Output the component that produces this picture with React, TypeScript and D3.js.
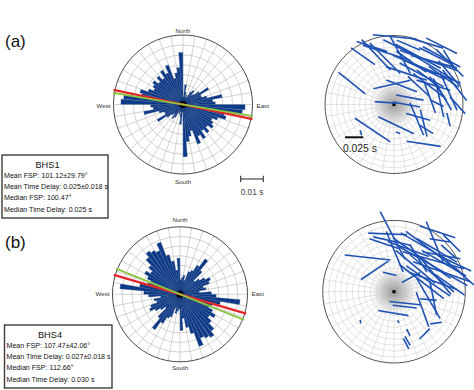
import React from "react";
import * as d3 from "d3";

// ---------- DATA ----------
const panelLabels = ["(a)", "(b)"];
const compassLabels = ["North", "East", "South", "West"];

// rose bins (5 deg, axial data mirrored onto the opposite direction)
const binStartDeg = [0, 5, 10, 15, 20, 25, 30, 35, 40, 45, 50, 55, 60, 65, 70, 75, 80, 85,
  90, 95, 100, 105, 110, 115, 120, 125, 130, 135, 140, 145, 150, 155, 160, 165, 170, 175];
const roseCountsA = [3, 8, 5, 3, 4, 3, 6, 7, 5, 6, 8, 12, 8, 8, 10, 16, 12, 13,
  25, 24, 17, 18, 15, 13, 14, 15, 13, 15, 13, 16, 14, 17, 11, 13, 15, 21];
const roseCountsB = [6, 7, 8, 6, 10, 11, 14, 18, 13, 8, 10, 12, 14, 13, 10, 11, 8, 13,
  15, 25, 17, 14, 13, 15, 17, 15, 17, 20, 22, 21, 20, 23, 17, 14, 10, 15];
const roseMaxCount = 28;

// drawn axis directions (deg from North)
const meanAxisDeg = [101.8, 106.3];
const medianAxisDeg = [99.4, 111.8];

const stationNames = ["BHS1", "BHS4"];
const statsA = ["Mean FSP: 101.12±29.79°", "Mean Time Delay: 0.025±0.018 s", "Median FSP: 100.47°", "Median Time Delay: 0.025 s"];
const statsB = ["Mean FSP: 107.47±42.06°", "Mean Time Delay: 0.027±0.018 s", "Median FSP: 112.66°", "Median Time Delay: 0.030 s"];

const roseScaleLabel = "0.01 s";
const splitScaleLabel = "0.025 s";
const splitScaleDelay = 0.025;

// splitting measurements: [east, north (normalised pierce point), FSP deg, delay s]
const splitsA = [
  [0.01, 0.98, 95.7, 0.060], [-0.26, 0.72, 136.6, 0.057], [-0.11, 0.75, 107.8, 0.068],
  [0.09, 0.72, 151.4, 0.058], [0.47, 0.89, 106.7, 0.048], [0.69, 0.69, 118.6, 0.058],
  [0.59, 0.71, 116.6, 0.047], [0.50, 0.64, 109.4, 0.083], [0.30, 0.58, 112.9, 0.065],
  [-0.61, 0.31, 128.7, 0.047], [-0.03, 0.29, 77.2, 0.052], [-0.31, -0.37, 123.7, 0.058],
  [0.03, -0.30, 115.5, 0.054], [0.43, -0.57, 98.5, 0.047], [-0.48, -0.41, 161.6, 0.007],
  [0.06, -0.41, 112.6, 0.006], [0.43, -0.27, 166, 0.038], [0.33, -0.21, 157.2, 0.048],
  [0.67, 0.04, 167.5, 0.043], [0.79, -0.22, 166, 0.019], [0.92, -0.01, 138, 0.031],
  [0.88, 0.28, 142, 0.053], [0.79, 0.19, 155.6, 0.056], [0.64, 0.23, 144.5, 0.040],
  [0.49, 0.38, 127.6, 0.038], [0.36, 0.26, 132.7, 0.041], [0.23, 0.10, 100.6, 0.038],
  [0.18, 0.0, 100.6, 0.038], [-0.12, 0.03, 94.4, 0.030], [0.35, -0.18, 106, 0.034],
  [0.47, -0.36, 122, 0.022], [-0.32, 0.84, 108.4, 0.044], [-0.13, 0.67, 135, 0.059],
  [0.04, 0.84, 116.6, 0.041], [0.69, 0.85, 116.6, 0.047], [0.55, 0.55, 121.6, 0.071],
  [0.40, 0.43, 118.3, 0.068], [0.18, 0.45, 108.4, 0.059], [0.79, 0.67, 149, 0.027],
  [0.81, 0.60, 135, 0.052], [0.50, 0.28, 127.9, 0.053], [0.57, 0.28, 106.7, 0.048],
  [0.21, 0.86, 113.2, 0.035], [0.11, 0.27, 111.3, 0.045], [0.62, 0.02, 116.6, 0.021],
  [0.62, 0.45, 112, 0.070], [0.45, 0.50, 115, 0.060], [0.72, 0.40, 125, 0.050],
  [0.58, 0.62, 105, 0.065], [0.35, 0.70, 118, 0.070], [0.80, 0.45, 140, 0.045],
  [0.70, 0.15, 150, 0.050], [0.25, 0.62, 125, 0.050], [-0.45, 0.70, 125, 0.040],
  [0.52, 0.10, 160, 0.045],
];
const splitsB = [
  [-0.02, 0.79, 152.5, 0.073], [-0.09, 0.81, 92.5, 0.053], [-0.03, 0.71, 102.8, 0.052],
  [-0.37, 0.48, 96.3, 0.063], [-0.27, 0.30, 56, 0.045], [0.57, 0.70, 157.4, 0.060],
  [0.61, 0.84, 108.4, 0.051], [0.55, 0.56, 126.9, 0.093], [0.39, 0.47, 125.2, 0.096],
  [0.53, 0.37, 119.7, 0.112], [0.55, 0.44, 105.5, 0.087], [0.53, 0.26, 130.2, 0.079],
  [0.67, 0.28, 109.4, 0.083], [0.39, 0.14, 127.6, 0.076], [0.55, 0.15, 109.7, 0.069],
  [0.48, -0.09, 149.7, 0.064], [0.55, -0.09, 168.7, 0.047], [0.15, -0.16, 96.3, 0.042],
  [0.15, -0.21, 96.5, 0.033], [-0.01, -0.30, 99.5, 0.042], [-0.47, -0.42, 169, 0.005],
  [0.06, -0.42, 150, 0.004], [0.20, -0.57, 153, 0.010], [0.17, -0.73, 153, 0.016],
  [0.19, -0.69, 150, 0.014], [0.43, -0.59, 45, 0.020], [0.59, -0.44, 81.9, 0.016],
  [0.48, -0.11, 95.7, 0.023], [0.77, 0.56, 131.6, 0.028], [0.93, 0.26, 131.2, 0.049],
  [0.34, 0.47, 148, 0.044], [0.01, 0.56, 157.4, 0.060], [-0.13, 0.67, 108.4, 0.044],
  [0.81, 0.68, 135, 0.033], [0.67, 0.51, 100.3, 0.052], [-0.06, 0.25, 104, 0.019],
  [0.24, 0.20, 61.4, 0.029], [0.48, 0.15, 124.7, 0.073], [0.60, 0.58, 120.3, 0.064],
  [0.64, 0.72, 99.5, 0.028], [0.45, 0.62, 120, 0.080], [0.70, 0.40, 120, 0.070],
  [0.30, 0.35, 130, 0.070], [0.60, 0.20, 140, 0.060], [0.78, 0.10, 125, 0.050],
  [0.20, 0.60, 110, 0.060], [0.40, -0.25, 160, 0.050], [0.85, 0.40, 115, 0.050],
];

// ---------- LAYOUT ----------
const W = 474, H = 390;
const FONT = "'Liberation Sans', Arial, Helvetica, sans-serif";
const rad = (d: number) => (d * Math.PI) / 180;

const panels = [
  {
    label: panelLabels[0], labelY: 46.5,
    rose: { cx: 183, cy: 104.5, R: 69.5, counts: roseCountsA, northY: 32.5, southY: 184.3, ewY: 108.3 },
    mean: meanAxisDeg[0], median: medianAxisDeg[0],
    split: { cx: 394, cy: 104.5, R: 69, data: splitsA, scale: true },
    box: { x: 2, y: 155, w: 106, h: 63 }, name: stationNames[0], stats: statsA, roseScale: true,
  },
  {
    label: panelLabels[1], labelY: 248,
    rose: { cx: 180, cy: 294.3, R: 67.5, counts: roseCountsB, northY: 221.5, southY: 370, ewY: 295.8 },
    mean: meanAxisDeg[1], median: medianAxisDeg[1],
    split: { cx: 394, cy: 291.7, R: 71.3, data: splitsB, scale: false },
    box: { x: 4.5, y: 325, w: 107.5, h: 63 }, name: stationNames[1], stats: statsB, roseScale: false,
  },
];

function Rose({ p }: any) {
  const { cx, cy, R, counts, northY, southY, ewY } = p.rose;
  const r = d3.scaleLinear().domain([0, roseMaxCount]).range([0, R]);
  const arc = d3.arc();
  const ringVals = d3.range(4, roseMaxCount, 4);
  const spokes = d3.range(0, 360, 10);
  const bars: any[] = [];
  binStartDeg.forEach((b, i) => {
    [b, b + 180].forEach((s) => {
      bars.push(
        arc({ innerRadius: 0, outerRadius: r(counts[i]), startAngle: rad(s + 0.25), endAngle: rad(s + 4.75) } as any)
      );
    });
  });
  const axisLine = (az: number) => {
    const L = R + 1.5;
    return { x1: cx - L * Math.sin(rad(az)), y1: cy + L * Math.cos(rad(az)), x2: cx + L * Math.sin(rad(az)), y2: cy - L * Math.cos(rad(az)) };
  };
  const m = axisLine(p.mean);
  const md = axisLine(p.median);
  return (
    <g>
      <circle cx={cx} cy={cy} r={R} fill="#fff" />
      {ringVals.map((v) => (
        <circle key={v} cx={cx} cy={cy} r={r(v)} fill="none" stroke="#b5b5b5" strokeWidth={0.6} />
      ))}
      {spokes.map((a) => (
        <line key={a} x1={cx} y1={cy} x2={cx + R * Math.sin(rad(a))} y2={cy - R * Math.cos(rad(a))} stroke="#b5b5b5" strokeWidth={0.6} />
      ))}
      <g transform={`translate(${cx},${cy})`}>
        {bars.map((d, i) => (
          <path key={i} d={d} fill="#0d3b8a" stroke="#0a2f70" strokeWidth={0.3} />
        ))}
        <circle r={3.5} fill="#000" />
      </g>
      <circle cx={cx} cy={cy} r={R} fill="none" stroke="#4a4a4a" strokeWidth={1} />
      <line {...m} stroke="#e3262b" strokeWidth={2.3} />
      <line {...md} stroke="#8cc63f" strokeWidth={1.8} />
      <g fontFamily={FONT} fontSize={6.2} fill="#333">
        <text x={cx} y={northY} textAnchor="middle">{compassLabels[0]}</text>
        <text x={cx + R + 4} y={ewY} textAnchor="start">{compassLabels[1]}</text>
        <text x={cx} y={southY} textAnchor="middle">{compassLabels[2]}</text>
        <text x={cx - R - 3} y={ewY} textAnchor="end">{compassLabels[3]}</text>
      </g>
    </g>
  );
}

function SplitPlot({ p, idx }: any) {
  const { cx, cy, R, data, scale } = p.split;
  const xs = d3.scaleLinear().domain([-1, 1]).range([cx - R, cx + R]);
  const ys = d3.scaleLinear().domain([-1, 1]).range([cy + R, cy - R]);
  const ds = d3.scaleLinear().domain([0, splitScaleDelay]).range([0, 18.3]);
  const rings = d3.range(1, 12).map((i) => (R * i) / 12);
  const spokes = d3.range(0, 360, 10);
  const gid = `cg${idx}`;
  return (
    <g>
      <defs>
        <radialGradient id={gid}>
          <stop offset="0" stopColor="#000" />
          <stop offset="0.1" stopColor="#666" />
          <stop offset="0.3" stopColor="#b4b4b4" />
          <stop offset="0.6" stopColor="#dcdcdc" />
          <stop offset="1" stopColor="#f4f4f4" stopOpacity={0} />
        </radialGradient>
      </defs>
      <circle cx={cx} cy={cy} r={25} fill={`url(#${gid})`} />
      {rings.map((rr, i) => (
        <circle key={i} cx={cx} cy={cy} r={rr} fill="none" stroke="#c8c8c8" strokeWidth={0.5} />
      ))}
      {spokes.map((a) => (
        <line key={a} x1={cx} y1={cy} x2={cx + R * Math.sin(rad(a))} y2={cy - R * Math.cos(rad(a))} stroke="#c8c8c8" strokeWidth={0.5} />
      ))}
      <circle cx={cx} cy={cy} r={R} fill="none" stroke="#555" strokeWidth={1} />
      <rect x={cx - 1.6} y={cy - 1.6} width={3.2} height={3.2} fill="#000" />
      {data.map((d: number[], i: number) => {
        const x = xs(d[0]), y = ys(d[1]);
        const h = ds(d[3]) / 2;
        const sx = Math.sin(rad(d[2])), sy = -Math.cos(rad(d[2]));
        return (
          <line key={i} x1={x - h * sx} y1={y - h * sy} x2={x + h * sx} y2={y + h * sy} stroke="#1f52b3" strokeWidth={1.6} />
        );
      })}
      {scale && (
        <g>
          <line x1={345} y1={137.3} x2={345 + ds(splitScaleDelay)} y2={137.3} stroke="#111" strokeWidth={2} />
          <text x={343} y={151.5} fontFamily={FONT} fontSize={10.3} fill="#222">{splitScaleLabel}</text>
        </g>
      )}
    </g>
  );
}

function StatsBox({ p }: any) {
  const { x, y, w, h } = p.box;
  return (
    <g fontFamily={FONT} fill="#111">
      <rect x={x} y={y} width={w} height={h} fill="#fff" stroke="#3c3c3c" strokeWidth={1.4} />
      <text x={x + 45.5} y={y + 13} textAnchor="middle" fontSize={9.2}>{p.name}</text>
      {p.stats.map((s: string, i: number) => (
        <text key={i} x={x + 2} y={y + 22.5 + i * 11.4} fontSize={7.1}>{s}</text>
      ))}
    </g>
  );
}

export default function App() {
  return (
    <svg width={W} height={H} style={{ position: "absolute", left: 0, top: 0, background: "#fff" }}>
      <rect width={W} height={H} fill="#fff" />
      {panels.map((p, i) => (
        <g key={i}>
          <text x={5} y={p.labelY} fontFamily={FONT} fontSize={17} fill="#111">{p.label}</text>
          <Rose p={p} />
          <SplitPlot p={p} idx={i} />
          <StatsBox p={p} />
          {p.roseScale && (
            <g>
              <line x1={240.7} y1={179} x2={263.3} y2={179} stroke="#333" strokeWidth={1.1} />
              <line x1={240.7} y1={175.8} x2={240.7} y2={182.2} stroke="#333" strokeWidth={1.1} />
              <line x1={263.3} y1={175.8} x2={263.3} y2={182.2} stroke="#333" strokeWidth={1.1} />
              <text x={252} y={195} textAnchor="middle" fontFamily={FONT} fontSize={8.3} fill="#444">{roseScaleLabel}</text>
            </g>
          )}
        </g>
      ))}
    </svg>
  );
}
